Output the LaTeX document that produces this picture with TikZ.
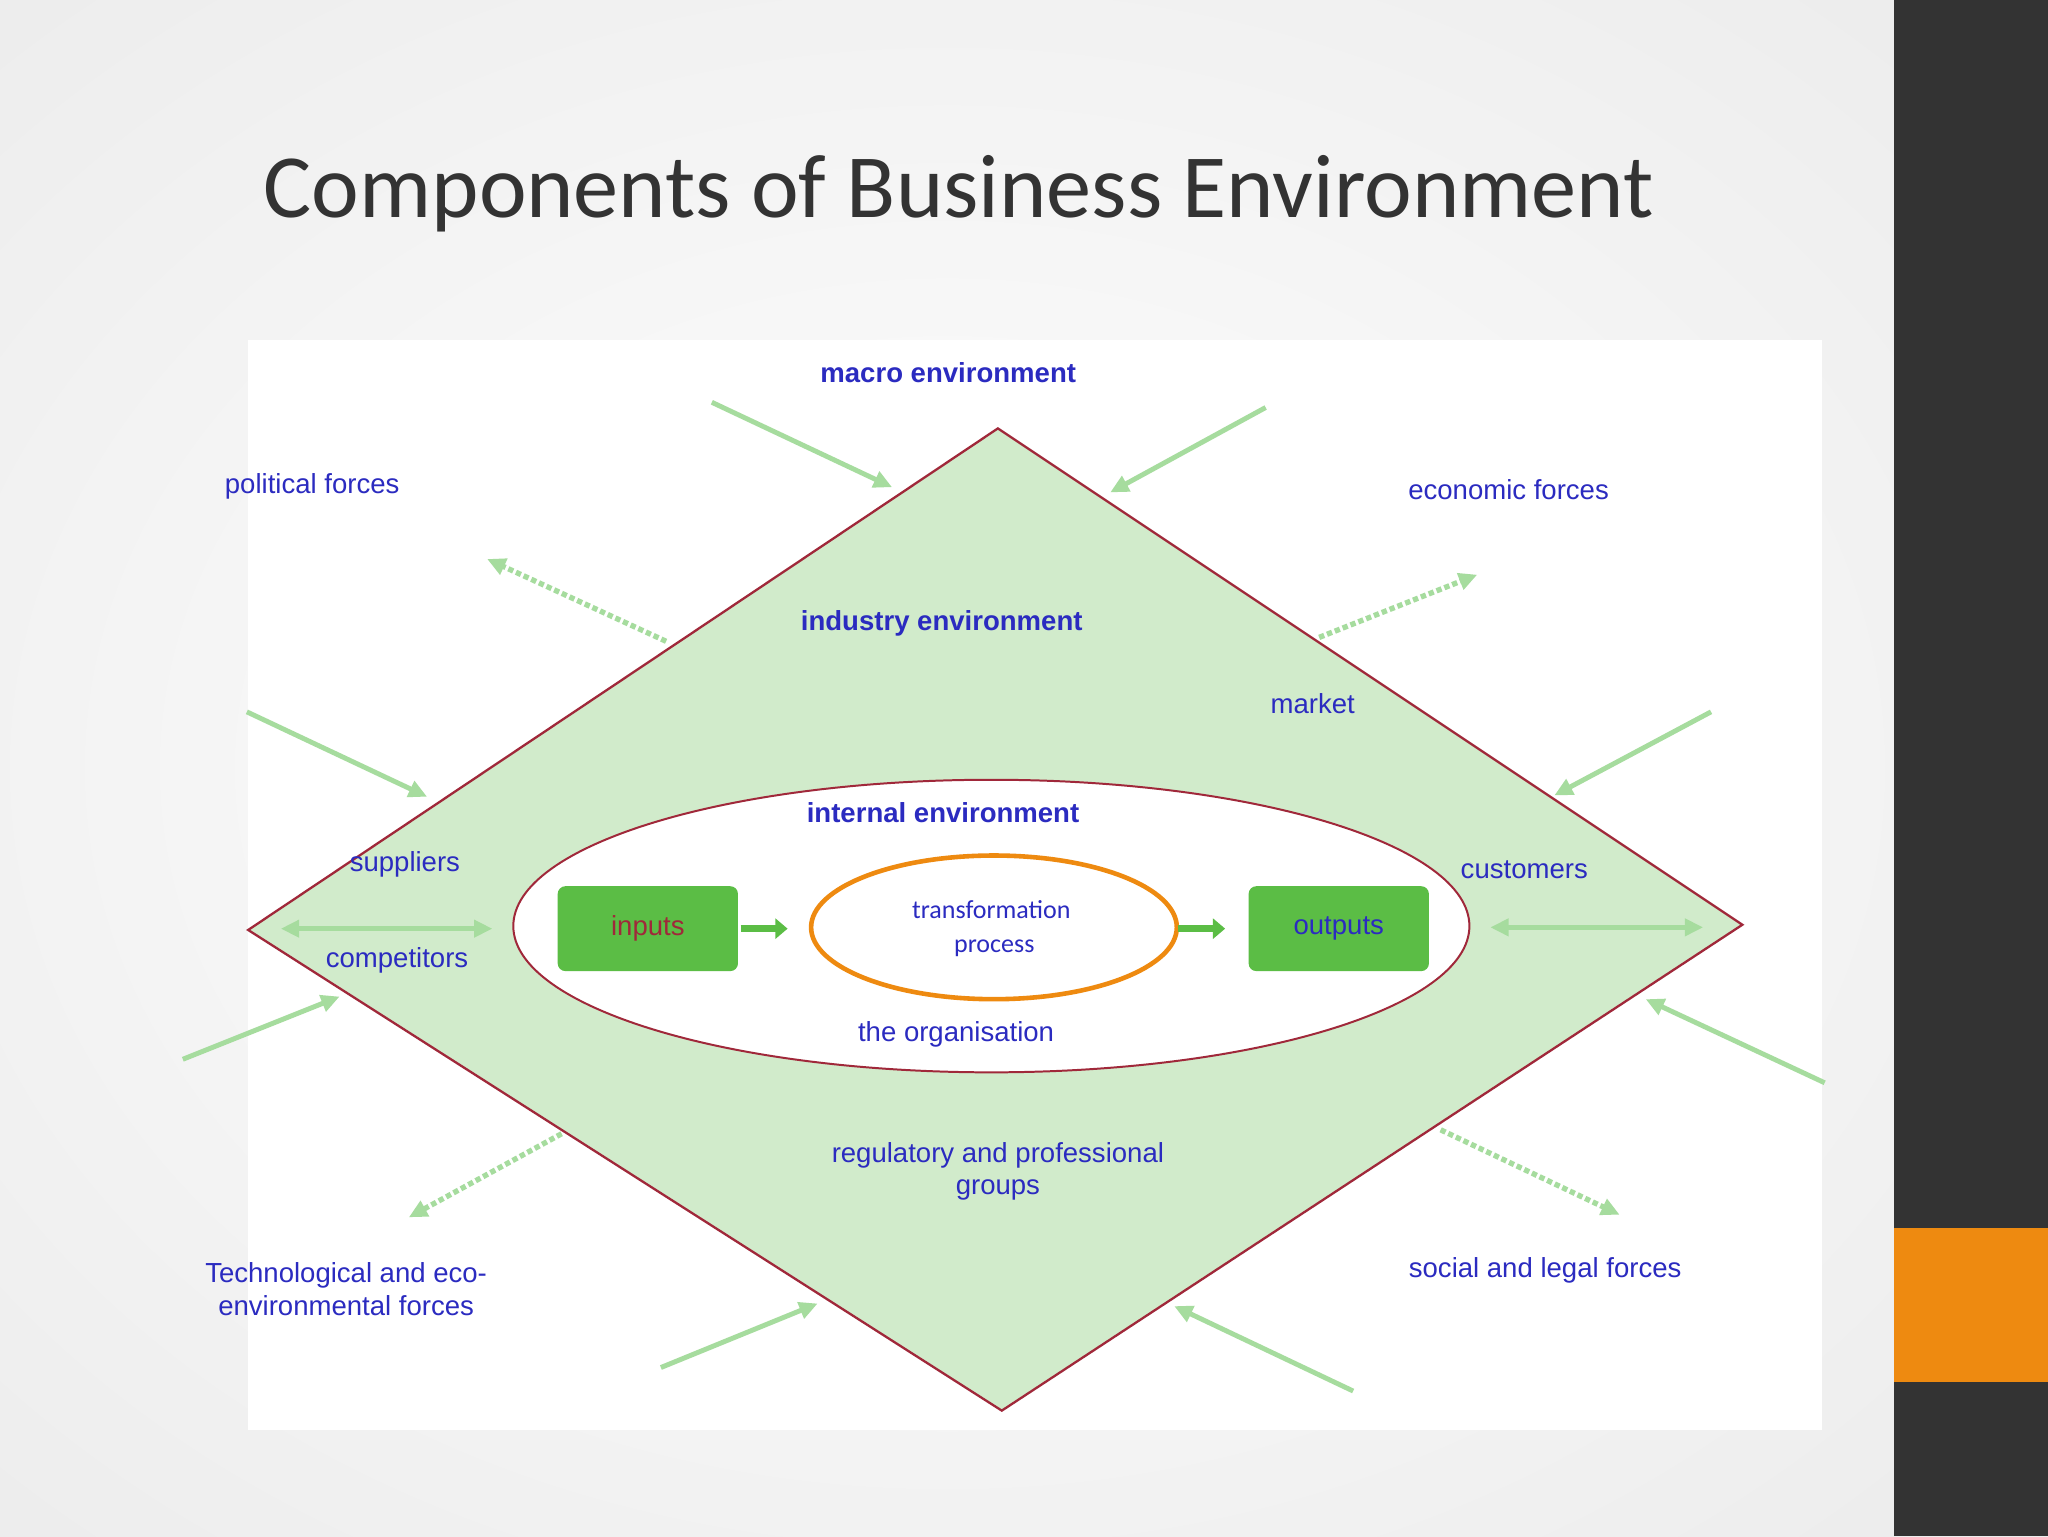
\documentclass[tikz,border=0pt]{standalone}
\usepackage{fontspec}
\setmainfont{Liberation Sans}
\newfontfamily\carl{Carlito}
\usetikzlibrary{arrows.meta,shapes.geometric}
\definecolor{lblue}{HTML}{2B2BC0}
\definecolor{dred}{HTML}{A0283A}
\definecolor{dfill}{HTML}{D1EBCB}
\definecolor{larrow}{HTML}{A6DC9E}
\definecolor{gbox}{HTML}{5BBD45}
\definecolor{orng}{HTML}{EE8A10}
\begin{document}
\begin{tikzpicture}[x=0.03cm,y=-0.03cm,
 lab/.style={text=lblue,font=\fontsize{18}{21}\selectfont,align=center},
 blab/.style={lab,font=\fontsize{18}{21}\selectfont\bfseries},
 fa/.style={draw=larrow,line width=3.2pt,-{Triangle[length=12pt,width=11pt]}},
 da/.style={draw=larrow,line width=3.5pt,dotted,-{Triangle[length=12pt,width=11pt]}},
 ba/.style={draw=larrow,line width=3.2pt,{Triangle[length=12pt,width=11pt]}-{Triangle[length=12pt,width=11pt]}},
 box/.style={fill=gbox,rounded corners=5pt,minimum width=138*0.03cm,minimum height=65*0.03cm,font=\fontsize{18}{21}\selectfont},
 ga/.style={draw=gbox,line width=5pt,-{Triangle[length=8pt,width=13pt]}}]
\useasboundingbox (0,0) rectangle (1568,1176);
\shade[inner color=white,outer color=black!7] (-300,-200) rectangle (1750,1376);
\fill[white] (190,260) rectangle (1395,1095);
\fill[black!80] (1450,0) rectangle (1568,1176);
\fill[orng] (1450,940) rectangle (1568,1058);
\node[font=\carl\fontsize{59}{64}\selectfont,text=black!80] (title) at (734,148) {Components of Business Environment};
\coordinate (T) at (764,328); \coordinate (R) at (1334,708);
\coordinate (B) at (767,1080); \coordinate (L) at (190,712);
\draw[dred,fill=dfill,line width=1.5pt] (T)--(R)--(B)--(L)--cycle;
\node[ellipse,draw=dred,fill=white,line width=1.3pt,minimum width=732*0.03cm,minimum height=224*0.03cm] (org) at (759,709) {};
\node[ellipse,draw=orng,line width=3pt,minimum width=280*0.03cm,minimum height=110*0.03cm] (tp) at (761,710) {};
\node[text=lblue,font=\carl\fontsize{17}{22}\selectfont,align=center] (tpt) at (759,711) {transformation\\\ process};
\node[box,text=dred] (in) at (496,711) {inputs};
\node[box,text=lblue] (out) at (1025,711) {outputs};
\coordinate (g1a) at (567,711); \coordinate (g1b) at (603,711);
\coordinate (g2a) at (902,711); \coordinate (g2b) at (938,711);
\draw[ga] (g1a)--(g1b); \draw[ga] (g2a)--(g2b);
\node[blab] (macro) at (726,285) {macro environment};
\node[blab] (ind) at (721,477) {industry environment};
\node[blab] (int) at (722,622) {internal environment};
\node[lab] (pol) at (239,372) {political forces};
\node[lab] (eco) at (1155,375) {economic forces};
\node[lab] (mkt) at (1005,539) {market};
\node[lab] (sup) at (310,662) {suppliers};
\node[lab] (com) at (304,735) {competitors};
\node[lab] (cus) at (1167,666) {customers};
\node[lab] (theorg) at (732,792) {the organisation};
\node[lab] (reg) at (764,897) {regulatory and professional\\groups};
\node[lab] (tech) at (265,987) {Technological and eco-\\environmental forces};
\node[lab] (soc) at (1183,973) {social and legal forces};
\foreach \a/\b/\c/\d in {545/308/683/373, 969/312/850/377, 189/545/327/610, 1310/545/1190/609, 140/811/260/763, 1397/829/1260/765, 506/1047/626/998, 1036/1065/899/1000}{
 \coordinate (s) at (\a,\b); \coordinate (e) at (\c,\d); \draw[fa] (s)--(e);}
\foreach \a/\b/\c/\d in {510/491/373/428, 1010/488/1131/440, 430/868/313/932, 1103/865/1240/930}{
 \coordinate (s) at (\a,\b); \coordinate (e) at (\c,\d); \draw[da] (s)--(e);}
\coordinate (b1) at (215,711); \coordinate (b2) at (377,711);
\coordinate (b3) at (1141,710); \coordinate (b4) at (1304,710);
\draw[ba] (b1)--(b2); \draw[ba] (b3)--(b4);
\end{tikzpicture}
\end{document}
